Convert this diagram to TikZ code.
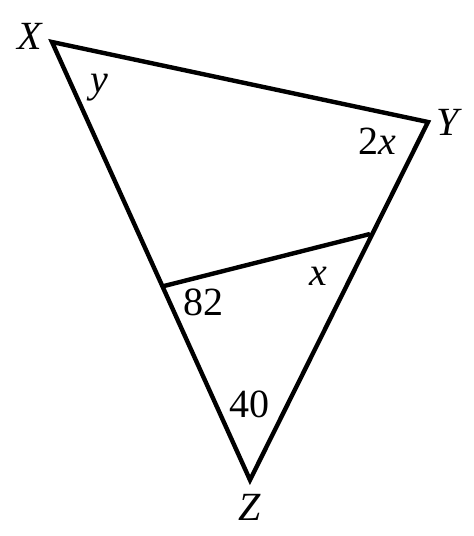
\documentclass[tikz,border=0pt]{standalone}
\usepackage{fontspec}
\setmainfont{Liberation Serif}
\usetikzlibrary{positioning}
\begin{document}
\begin{tikzpicture}[x=0.5pt, y=-0.5pt,
    edge/.style={line width=2.2pt},
    lbl/.style={font=\fontsize{20}{23}\selectfont, inner sep=0pt}]
    \useasboundingbox (0,0) rectangle (474,536);

    \coordinate (X) at (52,42);
    \coordinate (Y) at (428,122);
    \coordinate (Z) at (250,480);
    \coordinate (M) at (164,286);
    \coordinate (N) at (370,234);

    % triangle
    \draw[edge] (X) -- (Y) -- (Z) -- cycle;

    % inner segment
    \draw[edge] (M) -- (N);

    \foreach \name/\x/\y/\txt in {
        lX/30/36/\textit{X},
        lY/449/122/\textit{Y},
        lZ/250/507/\textit{Z},
        ly/99/88/\textit{y},
        l2x/377/141/2\textit{x},
        lx/318/276/\textit{x},
        l82/203/302/82,
        l40/249/404/40}{

        \node[lbl] (\name) at (\x,\y) {\txt};
    }
\end{tikzpicture}
\end{document}
